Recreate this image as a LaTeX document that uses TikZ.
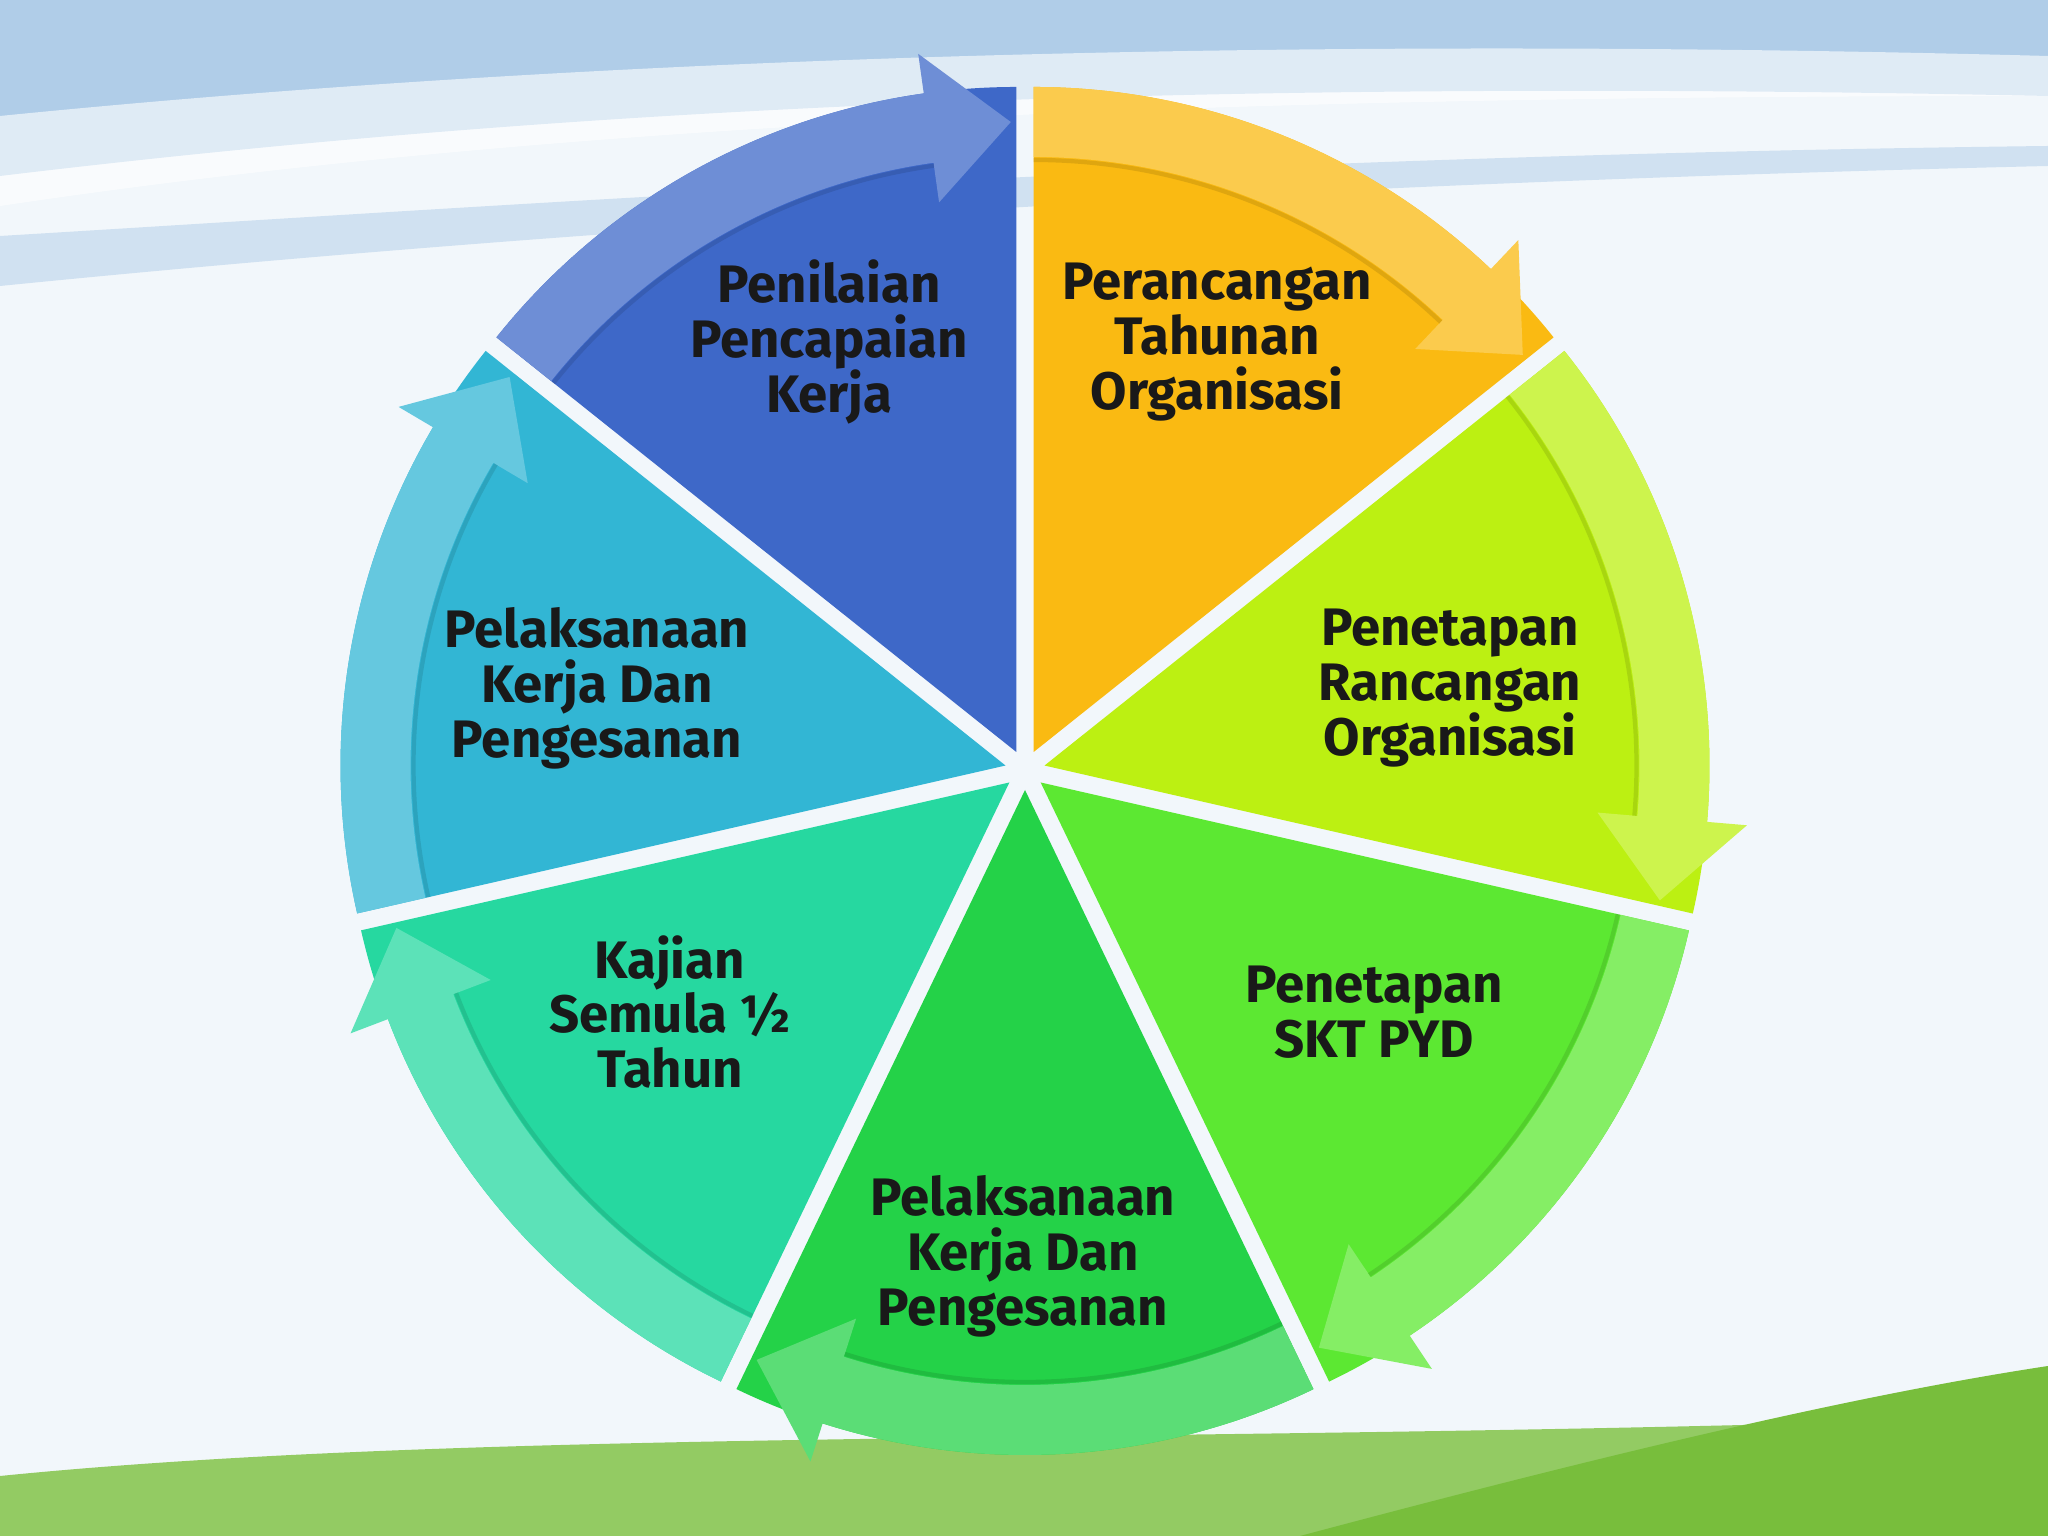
\documentclass[tikz,border=0pt]{standalone}
\usepackage{fontspec}
\setmainfont{Fira Sans}
\usetikzlibrary{calc}
\definecolor{cA}{RGB}{62,104,200}
\definecolor{cB}{RGB}{250,186,18}
\definecolor{cC}{RGB}{188,240,18}
\definecolor{cD}{RGB}{92,232,50}
\definecolor{cE}{RGB}{36,210,72}
\definecolor{cF}{RGB}{38,216,160}
\definecolor{cG}{RGB}{50,182,212}
\definecolor{bg}{RGB}{242,247,251}
\definecolor{sky}{RGB}{176,205,232}
\definecolor{hill}{RGB}{120,190,60}
\tikzset{lbl/.style={font=\bfseries\fontsize{15}{15.6}\selectfont, align=center, text=black!90}}
\begin{document}
\begin{tikzpicture}[x=0.01cm,y=0.01cm]
\useasboundingbox (0,0) rectangle (2048,1536);
\fill[bg] (0,0) rectangle (2048,1536);
% sky
\fill[sky] (0,1536) -- (0,1360) .. controls (500,1420) and (1100,1460) .. (2048,1440) -- (2048,1536) -- cycle;
\fill[white,opacity=0.6] (0,1420) .. controls (600,1480) and (1300,1500) .. (2048,1480) -- (2048,1440) .. controls (1300,1440) and (600,1420) .. (0,1330) -- cycle;
\fill[sky!60!white] (0,1300) .. controls (500,1330) and (1200,1380) .. (2048,1390) -- (2048,1370) .. controls (1200,1350) and (500,1300) .. (0,1250) -- cycle;
% hills
\fill[hill!80!white] (0,0) -- (0,60) .. controls (500,110) and (1200,90) .. (2048,120) -- (2048,0) -- cycle;
\fill[hill] (1300,0) .. controls (1600,80) and (1850,140) .. (2048,170) -- (2048,0) -- cycle;
\coordinate (C) at (1025,766);
\foreach \i/\c in {0/cA,1/cB,2/cC,3/cD,4/cE,5/cF,6/cG}{
  \pgfmathsetmacro{\s}{141.43-51.43*\i}
  \pgfmathsetmacro{\e}{90-51.43*\i}
  \pgfmathsetmacro{\m}{(\s+\e)/2}
  \coordinate (O\i) at ($(C)+(\m:20)$);
  \fill[\c] (O\i) -- ($(O\i)+(\s:665)$) arc[start angle=\s, end angle=\e, radius=665] -- cycle;
  \fill[\c!75!white] ($(O\i)+(\s:665)$) arc[start angle=\s, end angle=\e+8, radius=665]
     -- ($(O\i)+(\e+8:705)$) -- ($(O\i)+(\e+0.5:630)$) -- ($(O\i)+(\e+8:555)$)
     -- ($(O\i)+(\e+8:595)$) arc[start angle=\e+8, end angle=\s, radius=595] -- cycle;
  \draw[\c!70!black,opacity=0.35,line width=1.2pt] ($(O\i)+(\s:592)$) arc[start angle=\s, end angle=\e+8, radius=592];
}
\node[lbl] (t0) at (829,1194) {Penilaian\\Pencapaian\\Kerja};
\node[lbl] (t1) at (1217,1194) {Perancangan\\Tahunan\\Organisasi};
\node[lbl] (t2) at (1450,848) {Penetapan\\Rancangan\\Organisasi};
\node[lbl] (t3) at (1374,524) {Penetapan\\SKT PYD};
\node[lbl] (t4) at (1023,280) {Pelaksanaan\\Kerja Dan\\Pengesanan};
\node[lbl] (t5) at (670,524) {Kajian\\Semula ½\\Tahun};
\node[lbl] (t6) at (597,848) {Pelaksanaan\\Kerja Dan\\Pengesanan};
\end{tikzpicture}
\end{document}
